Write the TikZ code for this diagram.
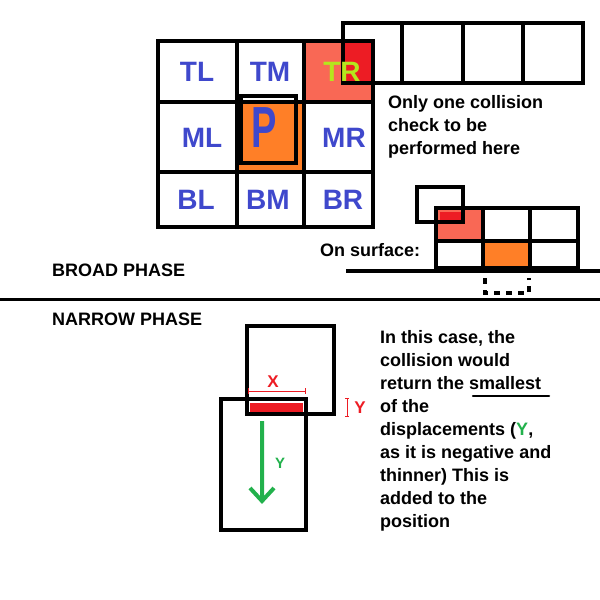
\documentclass[tikz,border=0pt]{standalone}
\usepackage{fontspec}
\setmainfont{Liberation Sans}[BoldFont={Liberation Sans Bold}]
\begin{document}
\begin{tikzpicture}[x=1pt,y=-1pt,
  bx/.style={draw=black,line width=4pt},
  lab/.style={font=\fontsize{28}{28}\selectfont\bfseries,text=blueL},
  txt/.style={font=\fontsize{18}{23}\selectfont\bfseries,anchor=north west,align=left,inner sep=0pt},
  ]
\definecolor{blueL}{HTML}{3F48CC}
\definecolor{salmon}{HTML}{F96855}
\definecolor{redc}{HTML}{ED1C24}
\definecolor{orangec}{HTML}{FF7F27}
\definecolor{lime}{HTML}{B5E61D}
\definecolor{greenc}{HTML}{22B14C}
\useasboundingbox (0,0) rectangle (600,600);
% big grid
\fill[salmon] (304,41) rectangle (373,102);
\fill[redc] (343,41) rectangle (373,83);
\fill[orangec] (237,102) rectangle (304,172);
\draw[bx] (158,41) rectangle (373,227);
\draw[bx] (237,41) -- (237,227) (304,41) -- (304,227) (158,102) -- (373,102) (158,172) -- (373,172);
\draw[bx] (343,23) rectangle (583,83);
\draw[bx] (402,23) -- (402,83) (463,23) -- (463,83) (523,23) -- (523,83);
\node[lab] (tl) at (197,72) {TL};
\node[lab] (tm) at (270,72) {TM};
\node[lab,text=lime] (tr) at (342,72) {TR};
\draw[bx] (241,96) rectangle (296,163);
\node[lab] (ml) at (202,138) {ML};
\node[lab] (mr) at (344,138) {MR};
\node[lab] (bl) at (196,200) {BL};
\node[lab] (bm) at (268,200) {BM};
\node[lab] (br) at (343,200) {BR};
\node[text=blueL,font=\fontsize{40}{40}\selectfont\bfseries,xscale=0.95,yscale=1.45] (p) at (264,128) {P};
\node[txt] (t1) at (388,95) {Only one collision\\check to be\\performed here};
% small grid
\fill[salmon] (436,208) rectangle (483,241);
\fill[orangec] (483,241) rectangle (530,268);
\fill[redc] (440,212) rectangle (463,222);
\draw[bx] (436,208) rectangle (578,268);
\draw[bx] (483,208) -- (483,268) (530,208) -- (530,268) (436,241) -- (578,241);
\draw[bx] (417,187) rectangle (463,222);
\draw[line width=4pt] (346,271) -- (600,271);
\draw[line width=4pt,dash pattern=on 6pt off 6pt] (485,278) -- (485,293) -- (529,293) -- (529,278);
\node[txt] (surf) at (320,243) {On surface:};
\node[txt] (broad) at (52,264) {BROAD PHASE};
\draw[line width=3pt] (0,299) -- (600,299);
\node[txt] (narrow) at (52,313) {NARROW PHASE};
% narrow
\fill[redc] (250,403) rectangle (303,413);
\draw[bx] (247,326) rectangle (334,414);
\draw[bx] (221,399) rectangle (306,530);
\draw[redc,line width=0.8pt] (248,391) -- (305,391) (248,388)--(248,394) (305,388)--(305,394);
\draw[redc,line width=0.8pt] (347,398) -- (347,416) (345,398)--(349,398) (345,416)--(349,416);
\node[text=redc,font=\fontsize{17}{17}\selectfont\bfseries] (xl) at (273,382) {X};
\node[text=redc,font=\fontsize{17}{17}\selectfont\bfseries] (yl) at (360,408) {Y};
\coordinate (a1) at (262,421);
\coordinate (a2) at (262,502);
\draw[greenc,line width=4pt] (a1) -- (a2) (250,488) -- (262,501) -- (274,488);
\node[text=greenc,font=\fontsize{15}{15}\selectfont\bfseries] (yg) at (280,463) {Y};
\node[txt] (t2) at (380,330) {In this case, the\\collision would\\return the smallest\\of the\\displacements ({\color{greenc}Y},\\as it is negative and\\thinner) This is\\added to the\\position};
\draw[line width=2.5pt,line cap=round] (473,396) -- (549,396);
\end{tikzpicture}
\end{document}
